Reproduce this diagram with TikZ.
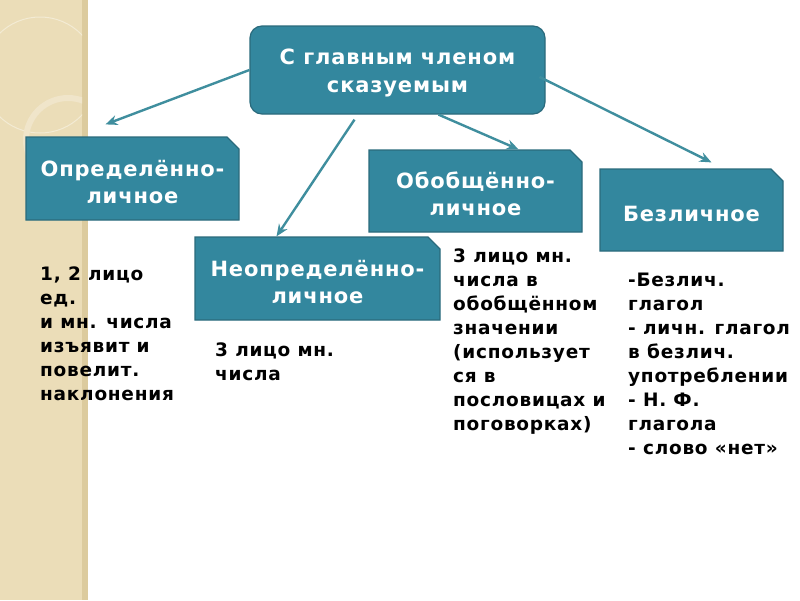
\documentclass[tikz,border=0pt]{standalone}
\usepackage{fontspec}
\setmainfont{DejaVu Sans}
\newfontfamily\spacedfont[LetterSpace=4]{DejaVu Sans}
\usepackage{tikz}
\usetikzlibrary{positioning,%
  arrows.meta,%
  shapes.misc,%
  calc
}
\definecolor{boxfill}{HTML}{33879E}
\definecolor{boxline}{HTML}{2A6A7C}
\definecolor{arrowcol}{HTML}{3F8E9E}
\definecolor{stripe}{HTML}{EBDDB8}
\definecolor{stripedark}{HTML}{DCCB9E}

% Text im Kasten etwas tiefer setzen (zusaetzliche Hoehe oben)
\newcommand{\kindlines}[2][12pt]{\raisebox{0pt}[\dimexpr\height+#1\relax][\depth]{\begin{tabular}{@{}c@{}}#2\end{tabular}}}

\begin{document}
\begin{tikzpicture}
                    [
                        x=1pt, y=-1pt,
                        every node/.style={font=\spacedfont\bfseries},
                        headbox/.style={draw=boxline, fill=boxfill, line width=1.2pt, rounded corners=12pt,
                            text=white, inner sep=0pt, font=\spacedfont\bfseries\fontsize{21}{28}\selectfont},
                        kindbox/.style={chamfered rectangle, chamfered rectangle corners=north east,
                            chamfered rectangle xsep=6pt, chamfered rectangle ysep=6pt,
                            draw=boxline, fill=boxfill, line width=1.2pt, text=white,
                            inner sep=0pt, font=\spacedfont\bfseries\fontsize{21}{27}\selectfont},
                        note/.style={anchor=north west, align=left, inner sep=0pt,
                            font=\spacedfont\bfseries\fontsize{18.5}{24}\selectfont},
                        link/.style={draw=arrowcol, line width=2.4pt, -{Stealth[length=12pt,width=10pt]}}
                    ]

                    % Rahmen
                    \useasboundingbox (0,0) rectangle (800,600);
                    \fill[white] (0,0) rectangle (800,600);

                    % Streifen links
                    \fill[stripe] (0,0) rectangle (88,600);
                    \fill[stripedark] (82,0) rectangle (88,600);
                    \begin{scope}
                        \clip (0,0) rectangle (82,600);
                        \draw[white!40!stripe, line width=1pt] (40,75) circle (58);
                        \draw[white!25!stripe, line width=6pt] (68,140) circle (42);
                    \end{scope}

                    % Kaesten
                    \node[headbox, minimum width=295pt, minimum height=88pt] (main) at (397.5,70)
                        {\kindlines[6pt]{С главным членом\\сказуемым}};
                    \node[kindbox, minimum width=213pt, minimum height=83pt] (defpers) at (132.5,178.5)
                        {\kindlines{Определённо-\\личное}};
                    \node[kindbox, minimum width=245pt, minimum height=83pt] (indefpers) at (317.5,278.5)
                        {\kindlines{Неопределённо-\\личное}};
                    \node[kindbox, minimum width=213pt, minimum height=82pt] (genpers) at (475.5,191)
                        {\kindlines{Обобщённо-\\личное}};
                    \node[kindbox, minimum width=183pt, minimum height=82pt] (impers) at (691.5,210)
                        {\kindlines{Безличное}};

                    % Pfeile
                    \draw[link] (main.west) -- ([xshift=-27pt,yshift=12pt]defpers.north);
                    \draw[link] ([xshift=-43pt,yshift=-5pt]main.south) -- ([xshift=-41pt]indefpers.north);
                    \draw[link] ([xshift=41pt]main.south) -- ([xshift=43pt]genpers.north);
                    \draw[link] ([xshift=-6pt,yshift=-7pt]main.east) -- ([xshift=20pt,yshift=6pt]impers.north);

                    % Erlaeuterungen
                    \node[note] (defnote) at (40,267)
                        {1, 2 лицо\\ед.\\и мн. числа\\изъявит и\\повелит.\\наклонения};
                    \node[note] (indefnote) at (215,343)
                        {3 лицо мн.\\числа};
                    \node[note] (gennote) at (453,249)
                        {3 лицо мн.\\числа в\\обобщённом\\значении\\(использует\\ся в\\пословицах и\\поговорках)};
                    \node[note] (impnote) at (628,273)
                        {-Безлич.\\глагол\\- личн. глагол\\в безлич.\\употреблении\\- Н. Ф.\\глагола\\- слово «нет»};
                \end{tikzpicture}
\end{document}
